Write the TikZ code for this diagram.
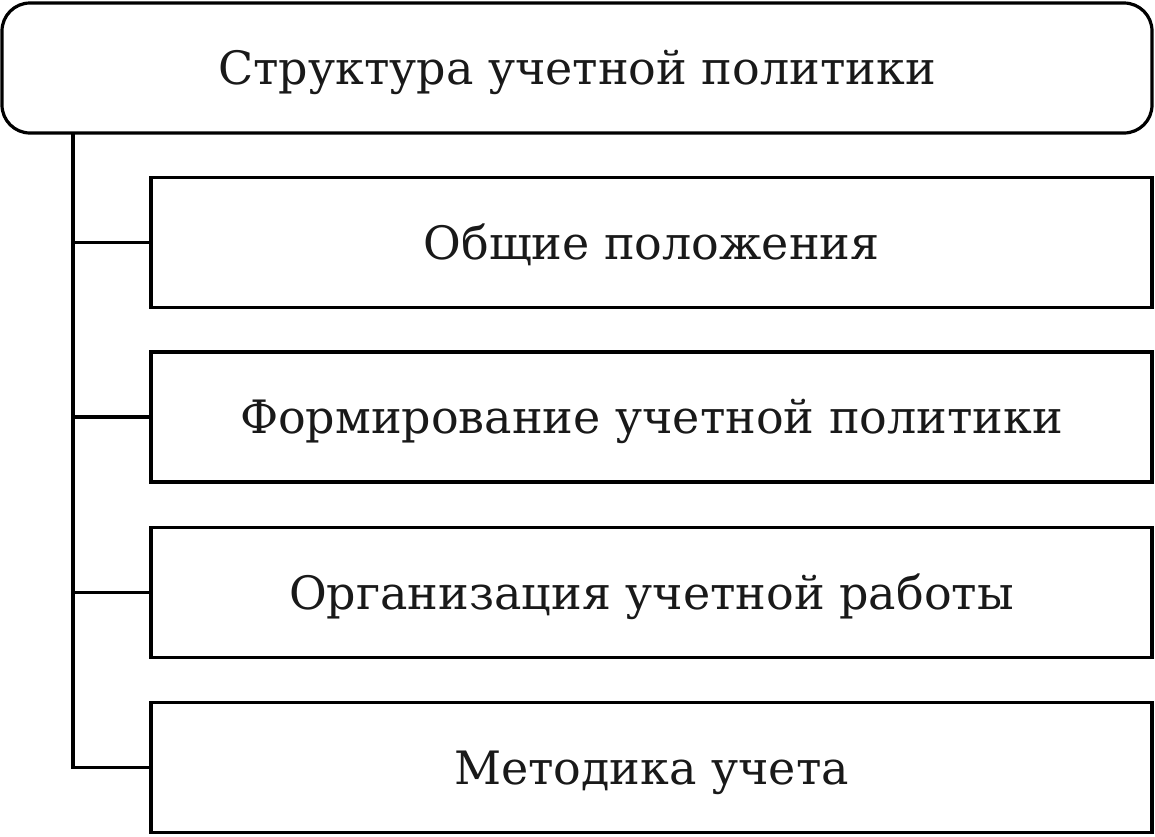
\documentclass[tikz,border=0pt]{standalone}
\usepackage{fontspec}
\setmainfont{DejaVu Serif}
\begin{document}
\begin{tikzpicture}[x=1pt,y=-1pt,
  lbl/.style={font=\fontsize{46}{54}\selectfont, text=black!90, text height=33.5pt, text depth=0pt},
  topbox/.style={draw, line width=3.2pt, rounded corners=28pt, minimum width=1150pt, minimum height=130pt, inner sep=0pt, lbl},
  itembox/.style={draw, line width=3.2pt, minimum width=1001pt, minimum height=130pt, inner sep=0pt, lbl},
  conn/.style={line width=3.2pt}]
\useasboundingbox (0,0) rectangle (1155,836);
\node[topbox] (top) at (577,68) {Структура учетной политики};
\node[itembox] (b1) at (651.5,242.5) {Общие положения};
\node[itembox] (b2) at (651.5,417) {Формирование учетной политики};
\node[itembox] (b3) at (651.5,592.5) {Организация учетной работы};
\node[itembox] (b4) at (651.5,767.5) {Методика учета};
\coordinate (tk) at (73,133);
\draw[conn] (tk) |- (b4.west);
\draw[conn] (tk |- b1.west) -- (b1.west);
\draw[conn] (tk |- b2.west) -- (b2.west);
\draw[conn] (tk |- b3.west) -- (b3.west);
\end{tikzpicture}
\end{document}
